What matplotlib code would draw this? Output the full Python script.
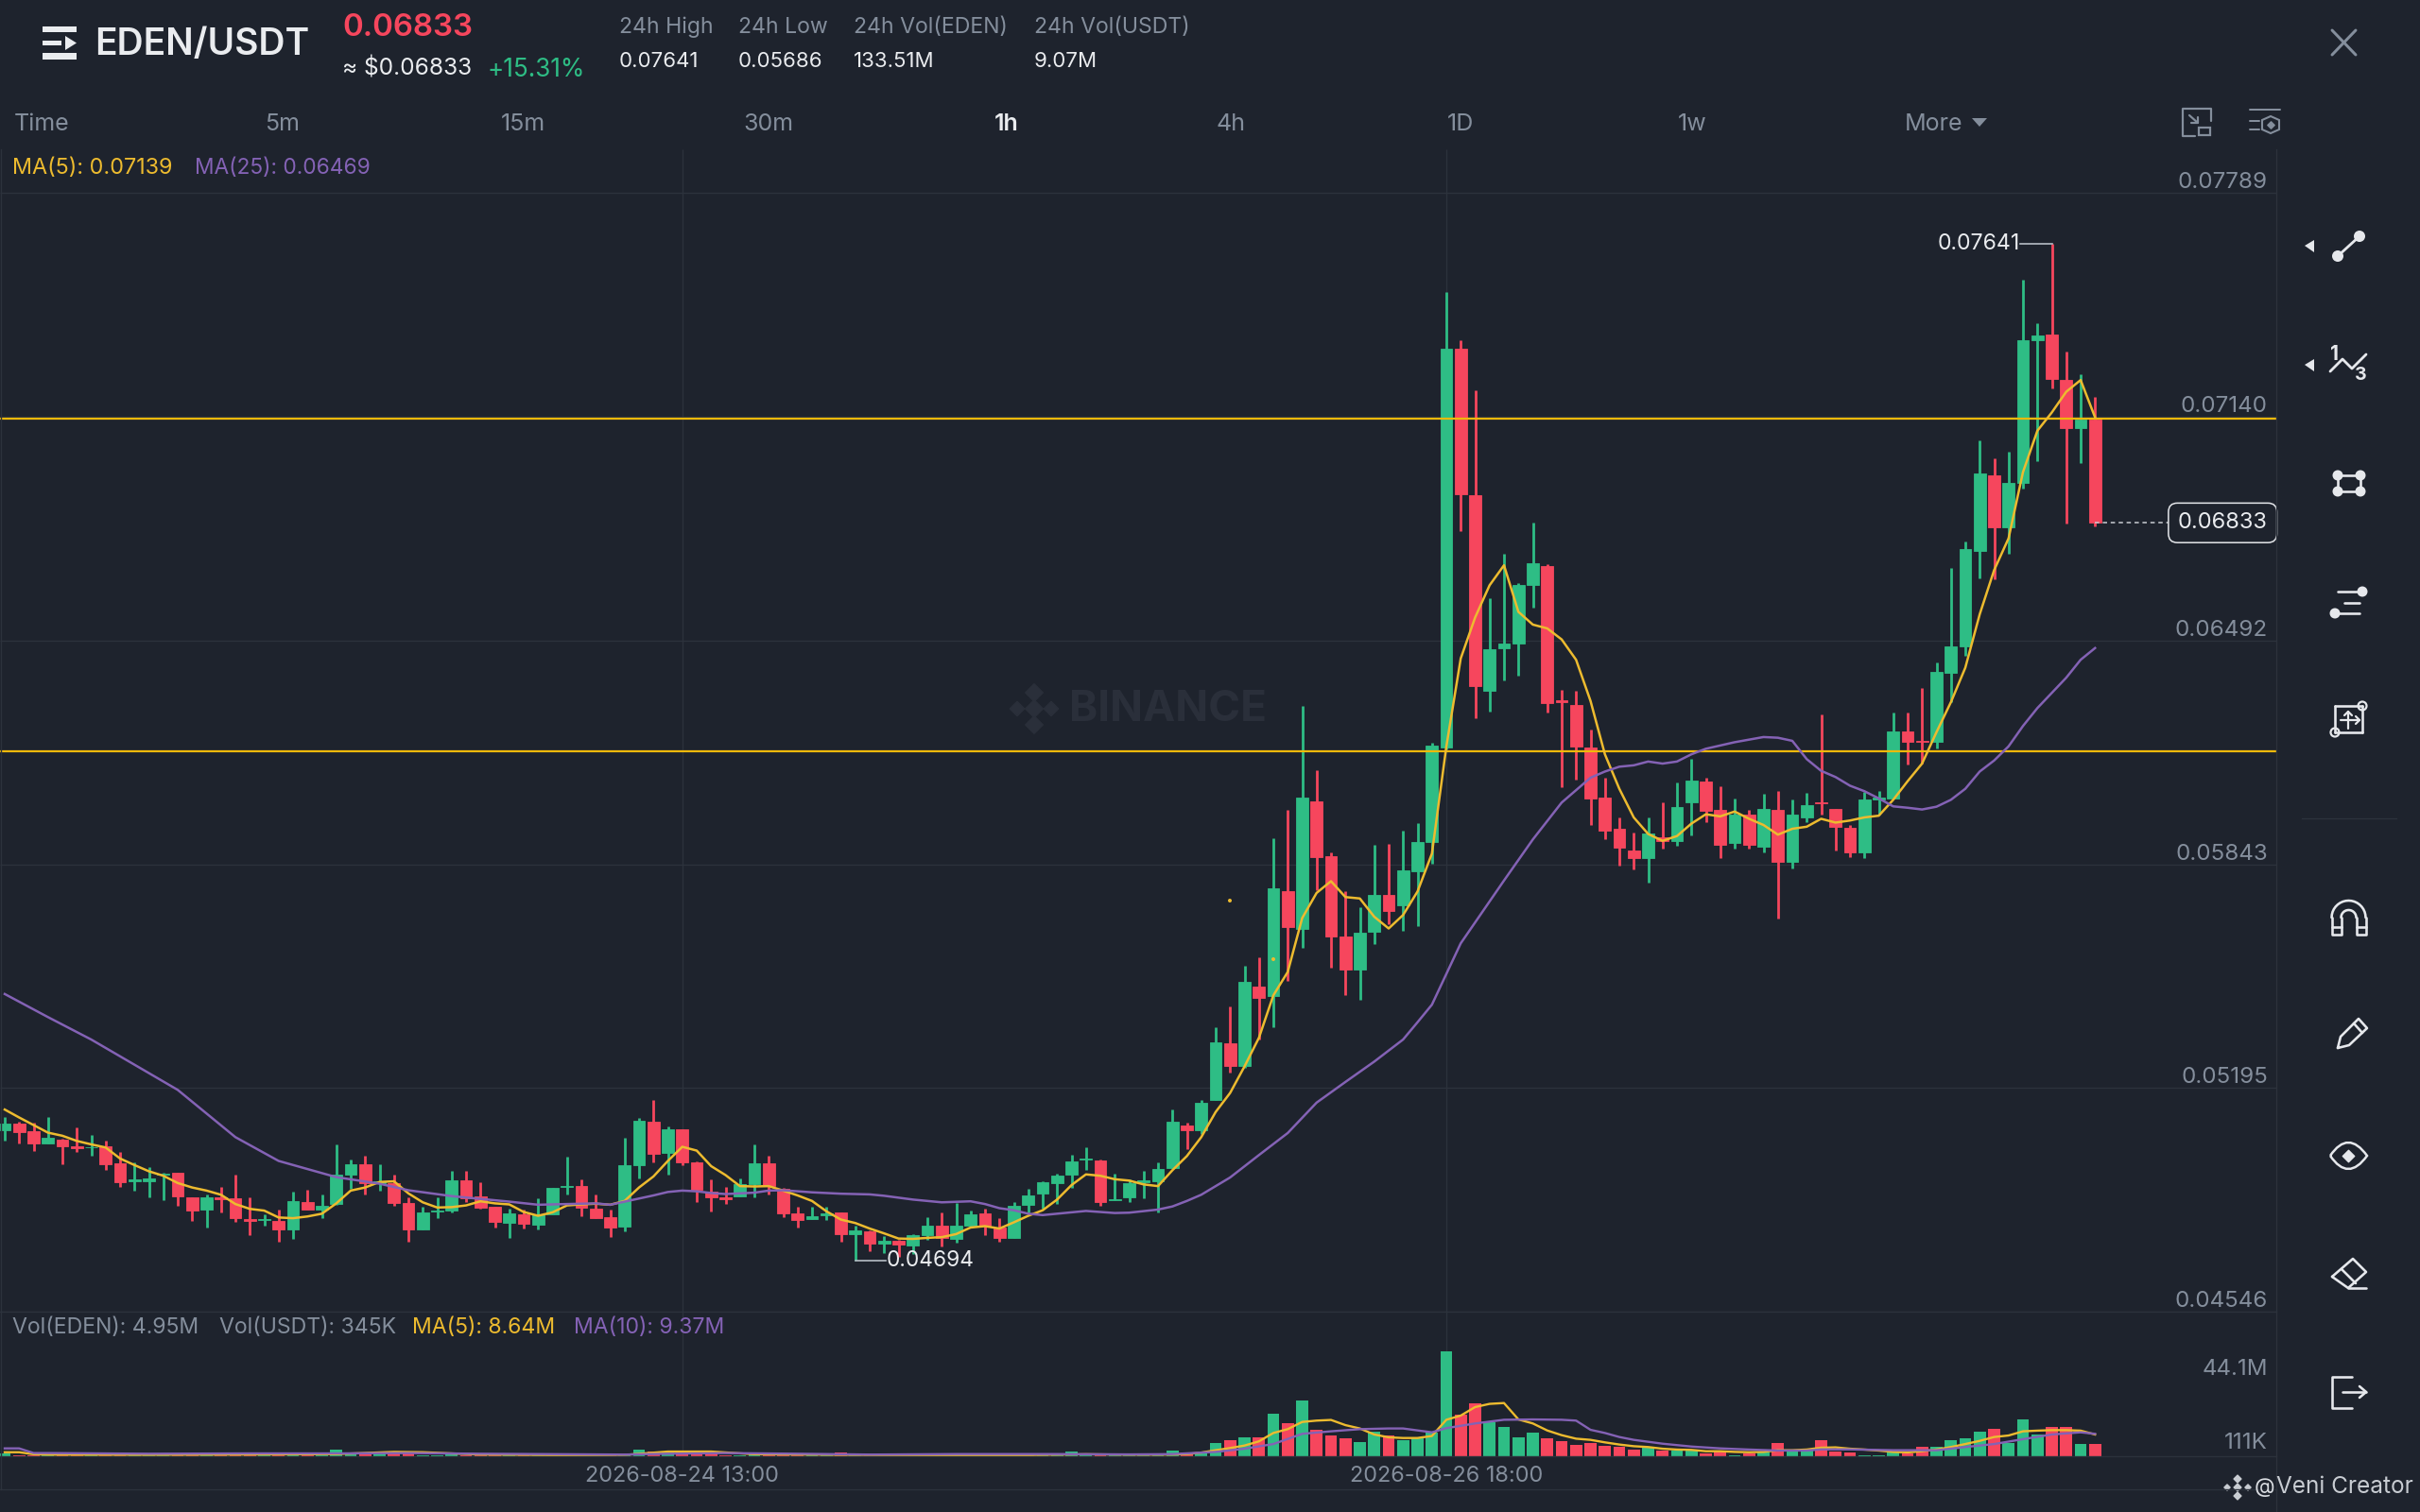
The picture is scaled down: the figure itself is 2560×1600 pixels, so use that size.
import numpy as np
import matplotlib
matplotlib.use('Agg')
import matplotlib.pyplot as plt
from matplotlib.path import Path
from matplotlib.patches import PathPatch, Polygon, Circle, Rectangle
from matplotlib.transforms import ScaledTranslation

plt.rcParams['font.family'] = ['Inter', 'DejaVu Sans']

# ---- values (prices in units of 1e-5 USDT) ----
OPEN = [5072,5092,5068,5035,5046,5026,5022,5026,4975,4924,4923,4944,4948,4878,4842,4877,4875,4814,4811,4810,
        4784,4865,4841,4858,4942,4973,4919,4919,4860,4784,4836,4839,4927,4880,4850,4803,4828,4798,4828,4907,
        4910,4844,4819,4792,4971,5096,5005,5075,4979,4894,4878,4880,4915,4976,4901,4830,4814,4825,4834,4771,
        4780,4744,4751,4737,4767,4795,4758,4794,4831,4791,4761,4855,4889,4919,4942,4986,4984,4869,4877,4922,
        4924,4962,5087,5072,5161,5323,5259,5488,5460,5766,5655,6025,5867,5634,5539,5647,5755,5724,5823,5908,
        6183,7337,6913,6347,6470,6482,6652,6709,6319,6305,6182,6037,5946,5883,5862,5922,5911,6023,6084,6000,
        5904,5986,5894,6002,5849,5980,6024,6004,5949,5878,6032,6033,6227,6200,6198,6399,6475,6751,6970,6820,
        6950,7363,7380,7247,7109,7133]
CLOSE = [5092,5067,5034,5051,5026,5021,5024,4973,4922,4930,4932,4947,4880,4839,4878,4873,4816,4810,4814,4784,
         4867,4842,4853,4944,4974,4919,4924,4860,4784,4833,4840,4928,4874,4848,4805,4830,4800,4827,4906,4910,
         4848,4818,4790,4971,5099,5004,5076,4979,4899,4878,4872,4915,4976,4910,4830,4813,4823,4830,4771,4781,
         4743,4751,4740,4767,4796,4760,4794,4828,4794,4760,4854,4882,4921,4940,4983,4990,4865,4872,4918,4926,
         4961,5096,5072,5152,5326,5259,5503,5456,5773,5661,6036,5863,5635,5539,5644,5755,5708,5825,5908,6188,
         7337,6917,6360,6466,6484,6652,6716,6311,6313,6185,6034,5940,5891,5862,5933,5911,6008,6087,5999,5899,
         5986,5900,6004,5849,5986,6015,6019,5951,5878,6032,6036,6228,6198,6197,6402,6476,6756,6977,6820,6948,
         7363,7375,7249,7109,7133,6833]
HIGH = [5111,5098,5093,5111,5047,5079,5059,5043,5008,4979,4965,4949,4950,4878,4887,4908,4942,4877,4828,4842,
        4895,4899,4886,5032,4988,4997,4973,4944,4878,4851,4878,4953,4954,4921,4851,4846,4842,4874,4906,4994,
        4929,4887,4842,5050,5107,5160,5084,5075,4983,4929,4908,4931,5031,4999,4906,4851,4849,4851,4835,4796,
        4782,4764,4753,4772,4819,4835,4862,4840,4846,4816,4865,4902,4924,4947,5000,5023,4988,4947,4929,4954,
        4979,5131,5093,5160,5372,5431,5549,5573,5920,6000,6303,6115,5877,5766,5719,5899,5901,5941,5962,6195,
        7502,7363,7217,6614,6744,6658,6833,6714,6349,6345,6235,6094,5978,5935,5978,6022,6080,6148,6095,6070,
        6033,6000,6048,6057,6031,6051,6278,6004,5958,6052,6055,6283,6283,6354,6427,6701,6778,7071,7021,7039,
        7539,7413,7641,7331,7265,7199]
LOW = [5041,5034,5013,5035,4974,5008,4999,4956,4908,4898,4878,4869,4853,4809,4791,4833,4807,4767,4794,4749,
       4756,4841,4818,4856,4902,4887,4897,4854,4749,4784,4817,4835,4865,4846,4789,4760,4787,4785,4828,4886,
       4824,4818,4762,4780,4933,4979,4942,4970,4865,4837,4857,4880,4878,4887,4821,4789,4814,4813,4750,4694,
       4721,4717,4705,4714,4755,4736,4747,4792,4769,4748,4761,4833,4846,4858,4906,4958,4854,4869,4865,4874,
       4833,4962,5018,5061,5161,5239,5253,5335,5370,5504,5600,5769,5543,5465,5449,5612,5668,5650,5664,5846,
       6175,6808,6267,6285,6376,6390,6588,6283,6066,6089,5958,5917,5838,5829,5789,5888,5896,5927,5966,5860,
       5889,5888,5878,5685,5832,5966,5986,5882,5863,5860,5988,6033,6132,6135,6180,6313,6448,6672,6669,6742,
       6932,7013,7222,6832,7007,6823]
MA5 = [5132,5109,5087,5065,5056,5041,5031,5022,4990,4971,4953,4940,4919,4906,4897,4885,4858,4844,4839,4819,
       4817,4822,4830,4860,4897,4906,4922,4924,4889,4863,4848,4849,4854,4866,4860,4857,4835,4824,4834,4854,
       4857,4859,4856,4867,4906,4938,4983,5024,5013,4968,4942,4910,4909,4910,4897,4883,4867,4837,4813,4803,
       4787,4773,4758,4757,4760,4762,4771,4790,4794,4787,4805,4824,4840,4871,4913,4944,4940,4930,4926,4915,
       4910,4956,4997,5052,5125,5180,5257,5340,5463,5531,5687,5760,5794,5748,5744,5691,5657,5696,5764,5874,
       6184,6440,6559,6652,6710,6575,6538,6527,6495,6436,6317,6162,6062,5979,5931,5911,5925,5961,5988,5982,
       5996,5975,5957,5929,5946,5952,5975,5964,5970,5979,5984,6030,6084,6135,6226,6313,6413,6568,6696,6788,
       6980,7100,7153,7213,7247,7139]
MA25_IDX = [0,3,6,12,16,19,23,26,28,31,35,37,41,42,43,44,45,46,47,48,49,50,51,52,53,54,55,56,58,60,61,63,65,67,68,
            69,70,71,72,74,75,77,78,80,81,82,83,85,87,89,91,93,95,97,98,99,101,104,106,108,110,111,112,113,114,
            115,116,117,118,120,122,123,124,125,126,127,128,129,130,131,132,133,134,135,136,137,138,139,140,141,
            142,143,144,145]
MA25_VAL = [5467,5400,5335,5189,5052,4983,4936,4917,4898,4881,4865,4856,4860,4856,4865,4874,4883,4893,4897,4895,
            4890,4887,4889,4891,4897,4898,4895,4892,4888,4886,4882,4871,4863,4866,4858,4846,4840,4830,4826,4834,
            4838,4832,4833,4842,4851,4867,4885,4935,5000,5064,5152,5212,5271,5335,5385,5436,5614,5796,5915,6022,
            6094,6112,6126,6130,6141,6135,6141,6162,6178,6197,6212,6210,6201,6148,6114,6096,6071,6055,6034,6011,
            6007,6002,6010,6030,6062,6112,6144,6185,6244,6296,6340,6384,6436,6470]
VOLUME_M = [1.7,0.4,0.4,0.3,0.5,0.3,0.3,0.3,0.3,0.3,0.8,0.3,0.3,0.3,0.7,0.3,0.4,2.4,0.4,0.9,
            0.4,0.4,0.5,4.0,2.2,1.7,1.7,2.2,2.2,0.5,0.4,0.9,0.3,0.3,0.3,0.3,0.3,0.3,0.3,0.3,
            0.3,0.3,0.3,0.9,4.0,3.0,2.2,2.0,2.0,2.0,0.4,0.4,0.9,0.4,0.3,0.3,0.3,0.3,2.2,0.5,
            0.4,0.7,0.3,0.3,0.3,0.3,0.6,0.3,0.3,0.3,0.3,0.3,0.3,0.6,2.8,1.7,1.7,0.4,0.3,0.3,
            0.4,3.6,2.3,2.3,7.7,9.4,11.3,11.3,25.6,19.6,33.3,15.6,12.6,10.5,8.3,14.5,12.4,9.8,10.5,13.9,
            62.5,24.9,31.8,20.5,17.7,11.1,14.1,10.7,9.2,6.6,7.7,6.2,5.5,4.1,4.9,3.2,3.2,4.1,1.9,3.4,
            0.8,1.9,2.3,8.1,3.0,3.4,9.8,2.6,2.4,0.4,0.4,2.6,1.9,5.6,5.5,9.6,10.9,14.5,16.2,8.1,
            22.0,13.2,17.3,17.7,7.3,7.3]
VMA5_IDX = [0,1,2,3,10,17,23,27,29,33,40,43,46,49,52,58,62,70,75,78,80,81,82,83,84,85,86,87,88,89,90,91,92,93,94,95,
            96,97,98,99,100,101,102,103,104,105,106,107,108,109,110,111,112,113,114,115,116,117,118,119,120,121,
            122,123,124,125,126,127,128,129,130,131,132,133,134,135,136,137,138,139,140,141,142,143,144,145]
VMA5_VAL = [2.4,2.4,1.2,0.9,0.8,1.0,1.3,2.6,2.4,1.0,0.5,0.8,2.8,2.8,1.2,0.8,0.6,0.5,1.2,0.9,0.9,1.0,1.3,2.2,3.6,4.9,
            6.4,8.9,13.9,16.2,20.5,21.3,21.7,18.6,16.6,13.0,11.3,10.9,10.9,12.1,21.8,24.3,29.4,31.3,31.8,22.0,19.6,
            15.4,12.6,10.5,9.8,8.3,7.0,6.0,5.5,4.5,4.0,3.8,3.0,3.0,2.6,2.4,2.6,3.6,3.6,4.0,5.1,5.3,4.5,4.0,3.4,2.6,
            2.3,3.0,4.0,5.5,7.3,9.2,11.5,12.4,14.9,15.3,15.6,15.6,15.3,13.0]
VMA10_IDX = [0,1,2,3,10,17,23,28,33,43,46,50,55,60,66,73,78,80,81,84,86,88,90,92,94,96,97,99,100,102,104,106,108,109,
             110,111,112,113,115,117,119,121,123,125,126,128,131,134,136,138,140,142,144,145]
VMA10_VAL = [4.7,4.7,1.9,1.9,1.5,1.7,1.7,1.9,1.5,1.0,1.5,1.9,1.5,1.0,1.3,1.3,1.1,1.2,1.3,2.6,4.5,7.3,13.4,14.9,16.2,
             16.6,16.6,14.3,16.8,19.6,21.8,22.0,21.8,21.3,15.8,13.9,11.5,9.8,7.5,5.8,4.7,4.0,3.4,3.4,4.1,4.1,3.6,3.6,
             5.5,7.3,10.2,13.0,14.3,13.4]
PRICE_TICKS = [0.07789, 0.07140, 0.06492, 0.05843, 0.05195, 0.04546]
USER_LINES = [0.07135, 0.06171]
VOL_TICKS = [0.111, 44.1]
VOL_TICK_LABELS = ['111K', '44.1M']
DATE_TICKS = [47, 100]
DATE_LABELS = ['2026-08-24 13:00', '2026-08-26 18:00']
INTERVALS = ['5m', '15m', '30m', '1h', '4h', '1D', '1w']

BG = '#1E232D'; GRID = '#2C323C'; GREEN = '#2EBD85'; RED = '#F6465D'
YEL = '#EDBB2F'; PUR = '#8462B5'; GRAY = '#848E9C'; WHITE = '#EAECEF'; ICON = '#E6E8EC'

W, H = 2560, 1600
fig = plt.figure(figsize=(25.6, 16), dpi=100, facecolor=BG)

def axes_px(x0, y0, x1, y1):
    return fig.add_axes([x0 / W, 1 - y1 / H, (x1 - x0) / W, (y1 - y0) / H], facecolor=BG)

px_pt = 0.72
o, c, hi, lo = [np.array(a) / 1e5 for a in (OPEN, CLOSE, HIGH, LOW)]
idx = np.arange(len(o))
up = c >= o
colors = np.where(up, GREEN, RED)
XLIM = (-5 / 15.25, (2408 - 5) / 15.25)

# price panel
ax = axes_px(0, 158, 2408, 1388)
ax.set_xlim(*XLIM)
ax.set_ylim(0.04546, 0.07916)
for s in ax.spines.values():
    s.set_visible(False)
ax.set_xticks([])
ax.set_yticks(PRICE_TICKS)
ax.set_yticklabels([f'{t:.5f}' for t in PRICE_TICKS])
ax.tick_params(axis='y', length=0, labelleft=False, labelright=True, pad=-6.5, labelsize=17.4, labelcolor=GRAY)
for lab in ax.get_yticklabels():
    lab.set_ha('right'); lab.set_va('baseline')
    lab.set_transform(lab.get_transform() + ScaledTranslation(0, 5 / 100, fig.dpi_scale_trans))
ax.hlines(PRICE_TICKS, *XLIM, color=GRID, lw=1.0, zorder=1)
ax.vlines(DATE_TICKS, 0.04546, 0.07916, color=GRID, lw=1.0, zorder=1)
ax.vlines(idx, lo, hi, color=colors, lw=2.0, zorder=3)
ax.bar(idx, np.abs(c - o), bottom=np.minimum(o, c), width=0.85, color=colors, edgecolor=colors, lw=0.6, zorder=3)
ax.hlines(USER_LINES, *XLIM, color='#F0B90B', lw=1.6, zorder=4)
ax.plot(idx, np.array(MA5) / 1e5, color=YEL, lw=1.8, zorder=5, solid_joinstyle='round')
ax.plot(MA25_IDX, np.array(MA25_VAL) / 1e5, color=PUR, lw=1.8, zorder=5, solid_joinstyle='round')
imax = int(np.argmax(hi)); imin = int(np.argmin(lo))
ax.plot([imax - 2.17, imax], [hi[imax]] * 2, color='#B7BDC6', lw=1.2, zorder=4)
ax.text(imax - 2.22, hi[imax], f'{hi[imax]:.5f}', color=WHITE, fontsize=16.6, ha='right', va='center', zorder=6)
ax.plot([imin, imin + 2.1], [lo[imin]] * 2, color='#B7BDC6', lw=1.2, zorder=4)
ax.text(imin + 2.15, lo[imin], f'{lo[imin]:.5f}', color=WHITE, fontsize=16.4, ha='left', va='center', zorder=6)
ax.plot([idx[-1], 150.1], [c[-1]] * 2, color='#C8CCD2', lw=1.1, ls=(0, (3, 2.5)), zorder=4)
ax.text(153.85, c[-1], f'{c[-1]:.5f}', color=WHITE, fontsize=17, ha='center', va='center', zorder=7,
        bbox=dict(boxstyle='round,pad=0.42,rounding_size=0.4', fc=BG, ec='#E4E6EA', lw=1.1))

# volume panel
vx = axes_px(0, 1388, 2408, 1541)
vx.set_xlim(*XLIM)
vx.set_ylim(0, 86.4)
for s in vx.spines.values():
    s.set_visible(False)
vx.bar(idx, VOLUME_M, width=0.85, color=colors, zorder=3)
vx.plot(VMA5_IDX, VMA5_VAL, color=YEL, lw=1.7, zorder=5)
vx.plot(VMA10_IDX, VMA10_VAL, color=PUR, lw=1.7, zorder=5)
vx.vlines(DATE_TICKS, 0, 86.4, color=GRID, lw=1.0, zorder=1)
vx.set_xticks(DATE_TICKS)
vx.set_xticklabels(DATE_LABELS)
vx.tick_params(axis='x', length=0, pad=7.0, labelsize=16.9, labelcolor=GRAY)
vx.set_yticks(VOL_TICKS)
vx.set_yticklabels(VOL_TICK_LABELS)
vx.tick_params(axis='y', length=0, labelleft=False, labelright=True, pad=-6.5, labelsize=17.4, labelcolor=GRAY)
for lab in vx.get_yticklabels():
    lab.set_ha('right'); lab.set_va('baseline')
    lab.set_transform(lab.get_transform() + ScaledTranslation(0, 8 / 100, fig.dpi_scale_trans))

# interface overlay in pixel coordinates
ui = fig.add_axes([0, 0, 1, 1], facecolor='none', zorder=10)
ui.set_xlim(0, W); ui.set_ylim(H, 0); ui.axis('off')

def T(x, y, s, color=GRAY, size=15.5, weight='normal', ha='left'):
    ui.text(x, y + 2, s, color=color, fontsize=size, fontweight=weight, ha=ha, va='center')

def L(xs, ys, color=ICON, lw=2.6):
    ui.plot(xs, ys, color=color, lw=lw * px_pt, solid_capstyle='round', solid_joinstyle='round')

def dot(x, y, r=5, color=ICON):
    ui.add_patch(Circle((x, y), r, fc=color, ec='none'))

for xs, ys in [([0, 2408], [1541, 1541]), ([0, 2408], [1576, 1576]), ([2408, 2408], [158, 1600]),
               ([0.5, 0.5], [158, 1576]), ([2435, 2535], [866, 866]), ([0, 2408], [1388, 1388])]:
    ui.plot(xs, ys, color=GRID, lw=1.0)

# header
for y0, y1, x1 in [(28, 34, 81), (56, 63, 81)]:
    ui.add_patch(Rectangle((45, y0), x1 - 45, y1 - y0, fc=WHITE, ec='none'))
ui.add_patch(Rectangle((45, 43), 20, 5, fc=WHITE, ec='none'))
ui.add_patch(Polygon([(69, 38), (81, 45.5), (69, 53)], fc=WHITE, ec='none'))
T(100, 45, 'EDEN/USDT', WHITE, 28, 'semibold')
T(362, 27, '0.06833', RED, 23.8, 'semibold')
T(362, 71, '≈ $0.06833', WHITE, 17.6)
T(515, 72, '+15.31%', GREEN, 18.8)
for x, head, val in [(655, '24h High', '0.07641'), (781, '24h Low', '0.05686'),
                     (903, '24h Vol(EDEN)', '133.51M'), (1094, '24h Vol(USDT)', '9.07M')]:
    T(x, 27, head, GRAY, 16.6)
    T(x, 63, val, WHITE, 16)

# interval bar
T(15, 129, 'Time', GRAY, 18)
for x, s in zip([299, 553, 813, 1065, 1302, 1545, 1790], INTERVALS):
    T(x, 129, s, WHITE if s == '1h' else GRAY, 18, 'semibold' if s == '1h' else 'normal', ha='center')
T(2015, 129, 'More', GRAY, 18)
ui.add_patch(Polygon([(2086, 125), (2102, 125), (2094, 134)], fc=GRAY, ec='none'))

# legends
T(13, 176, 'MA(5): 0.07139', YEL, 16.8)
T(206, 176, 'MA(25): 0.06469', PUR, 16.4)
T(13, 1403, 'Vol(EDEN): 4.95M', GRAY, 16.6)
T(232, 1403, 'Vol(USDT): 345K', GRAY, 16.6)
T(436, 1403, 'MA(5): 8.64M', YEL, 16.6)
T(607, 1403, 'MA(10): 9.37M', PUR, 16.6)

# watermark
WM = '#2A2F3A'
ui.text(1235, 751, 'BINANCE', color=WM, fontsize=33, fontweight='bold', ha='center', va='center')
ui.scatter([1094, 1076, 1112, 1094, 1094], [733, 750, 750, 750, 767], marker='D', s=[90, 60, 60, 90, 90], color=WM)

# stray dots in the source
dot(1301, 953, 2, YEL)
dot(1347, 1015, 2, YEL)

# close and top toolbar
L([2467, 2492], [32, 58], GRAY, 3); L([2467, 2492], [58, 32], GRAY, 3)
L([2325, 2309, 2309, 2322], [115, 115, 144, 144], GRAY, 2.2)
L([2325, 2339, 2339], [115, 115, 128], GRAY, 2.2)
ui.add_patch(Rectangle((2326, 135), 12, 8, fc='none', ec=GRAY, lw=1.6))
L([2316, 2325], [122, 130], GRAY, 2.2); L([2325, 2325, 2318], [124, 130, 130], GRAY, 2.2)
L([2380, 2412], [116, 116], GRAY, 2); L([2380, 2390], [128, 128], GRAY, 2); L([2380, 2390], [137, 137], GRAY, 2)
ui.add_patch(Polygon([(2393, 127), (2402, 123), (2411, 127), (2411, 137), (2402, 141), (2393, 137)], fc='none', ec=GRAY, lw=1.5))
ui.scatter([2402], [132], marker='D', s=14, color=GRAY)

# side toolbar
ui.add_patch(Polygon([(2438, 260), (2448, 254), (2448, 267)], fc=ICON, ec='none'))
L([2473, 2496], [271, 250], ICON, 2.8); dot(2473, 271, 6); dot(2496, 250, 6)
ui.add_patch(Polygon([(2438, 386), (2448, 380), (2448, 393)], fc=ICON, ec='none'))
L([2465, 2478, 2488, 2503], [393, 380, 390, 375], ICON, 2.8)
ui.text(2470, 375, '1', color=ICON, fontsize=15, fontweight='bold', ha='center', va='center')
ui.text(2497, 397, '3', color=ICON, fontsize=14, fontweight='bold', ha='center', va='center')
L([2473, 2497, 2497, 2473, 2473], [503, 503, 520, 520, 503], ICON, 2.6)
for x, y in [(2473, 503), (2497, 503), (2473, 520), (2497, 520)]:
    dot(x, y, 5.5)
L([2473, 2499], [626, 626], ICON, 2.6); dot(2499, 626, 5.5)
L([2480, 2496], [638, 638], ICON, 2.6)
L([2470, 2496], [649, 649], ICON, 2.6); dot(2470, 649, 5.5)
L([2470, 2499], [747, 747], ICON, 2.6); L([2499, 2499], [747, 775], ICON, 2.6)
L([2470, 2499], [775, 775], ICON, 2.6); L([2470, 2470], [747, 775], ICON, 2.6)
L([2476, 2496], [762, 762], ICON, 2.2); L([2484, 2484], [753, 771], ICON, 2.2)
L([2480, 2484, 2488], [757, 753, 757], ICON, 2.2); L([2492, 2496, 2492], [758, 762, 766], ICON, 2.2)
ui.add_patch(Circle((2499, 747), 4.5, fc=BG, ec=ICON, lw=1.6))
ui.add_patch(Circle((2470, 775), 4.5, fc=BG, ec=ICON, lw=1.6))

# magnet
th = np.radians(np.arange(180, 361, 10))
L(list(2484.5 + 18 * np.cos(th)), list(971 + 18 * np.sin(th)))
L([2466.5, 2466.5, 2476.5, 2476.5], [971, 989, 989, 971])
L(list(2484.5 + 8 * np.cos(th)), list(971 + 8 * np.sin(th)))
L([2502.5, 2502.5, 2492.5, 2492.5], [971, 989, 989, 971])
L([2466.5, 2476.5], [981, 981]); L([2492.5, 2502.5], [981, 981])
# pencil
L([2473, 2476, 2495, 2504, 2485, 2473], [1109, 1097, 1078, 1088, 1106, 1109])
L([2490, 2499], [1083, 1093])
# eye
ui.add_patch(PathPatch(Path([(2465, 1223), (2484, 1195), (2504, 1223), (2484, 1251), (2465, 1223)],
                            [Path.MOVETO, Path.CURVE3, Path.CURVE3, Path.CURVE3, Path.CURVE3]),
                       fc='none', ec=ICON, lw=2.5 * px_pt))
ui.scatter([2484], [1223], marker='D', s=40, color=ICON)
# eraser
L([2467, 2489, 2503, 2484, 2467], [1351, 1332, 1346, 1363, 1351])
L([2484, 2503], [1363, 1363]); L([2477, 2492], [1343, 1358])
# exit
L([2488, 2467, 2467, 2488], [1457, 1457, 1490, 1490])
L([2478, 2503], [1473, 1473]); L([2496, 2503, 2496], [1467, 1473, 1479])

# credit line
ui.scatter([2367, 2356, 2378, 2367, 2367], [1565, 1574, 1574, 1574, 1583], marker='D', s=[16, 10, 10, 16, 16], color='#C8CCD2')
T(2385, 1572, '@', '#DADDE2', 16)
T(2408, 1572, 'Veni Creator', '#C8CCD2', 17.5)

fig.savefig('out.png', dpi=100, facecolor=BG)
